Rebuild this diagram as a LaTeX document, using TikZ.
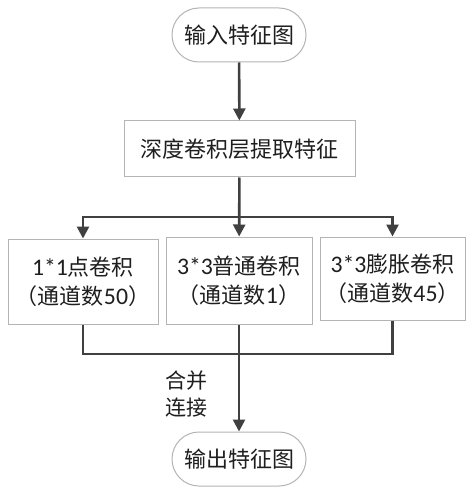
\documentclass[tikz,border=0pt]{standalone}
\usepackage{fontspec}
\setmainfont{Carlito}[Scale=1.08]
\newfontfamily\cjk{Noto Sans CJK SC}
\usetikzlibrary{arrows.meta}
\definecolor{boxline}{HTML}{B4B4B4}
\definecolor{conn}{HTML}{404040}
\definecolor{txt}{HTML}{1E1E1E}
\tikzset{
  base/.style={draw=boxline, line width=1pt, text=txt, align=center, inner sep=0pt,
    font=\fontsize{22}{29}\selectfont},
  term/.style={base, rounded corners=27pt, minimum width=134pt, minimum height=54pt},
  proc/.style={base, rectangle},
  link/.style={draw=conn, line width=2.6pt},
  arr/.style={link, -{Triangle[width=12pt,length=12pt]}},
}
\begin{document}
\begin{tikzpicture}[x=1pt,y=-1pt]
\useasboundingbox[fill=white] (0,0) rectangle (474,494);
\node[term] (in) at (239,35) {\cjk 输入特征图};
\node[proc, minimum width=231pt, minimum height=56pt] (feat) at (239.5,149) {\cjk 深度卷积层提取特征};
\node[proc, minimum width=150pt, minimum height=85pt] (a) at (83,281.5) {1*1{\cjk 点卷积}\\{\cjk （通道数}50{\cjk ）}};
\node[proc, minimum width=146pt, minimum height=87pt] (b) at (239,280.5) {3*3{\cjk 普通卷积}\\{\cjk （通道数}1{\cjk ）}};
\node[proc, minimum width=145pt, minimum height=83pt] (c) at (392.5,278.5) {3*3{\cjk 膨胀卷积}\\{\cjk （通道数}45{\cjk ）}};
\node[term] (out) at (239,459) {\cjk 输出特征图};
\coordinate (br) at (239,217);
\coordinate (mg) at (239,354);
\node[text=txt, align=center, font=\fontsize{21}{27}\selectfont\cjk] (lbl) at (186,394) {合并\\连接};
\draw[arr] (in) -- (feat);
\draw[arr] (feat) -- (b);
\draw[arr] (br) -| (a.north);
\draw[arr] (br) -| (c.north);
\draw[link] (a.south) |- (mg) -| (c.south);
\draw[arr] (b) -- (out);
\end{tikzpicture}
\end{document}
